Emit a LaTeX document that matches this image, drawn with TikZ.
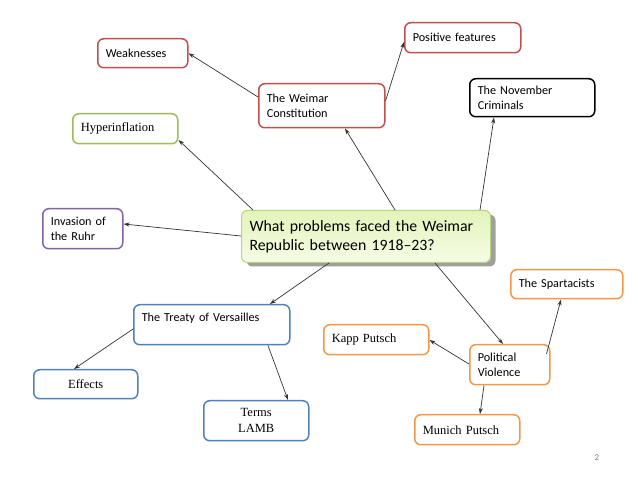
\documentclass[tikz,border=0pt]{standalone}
\usepackage{fontspec}
\setmainfont{Carlito}
\newfontfamily\serifcam{Liberation Serif}
\usetikzlibrary{arrows.meta,shadows}
\definecolor{cred}{HTML}{C0504D}
\definecolor{cgreen}{HTML}{9BBB59}
\definecolor{cpurple}{HTML}{8064A2}
\definecolor{cblue}{HTML}{4F81BD}
\definecolor{corange}{HTML}{F79646}
\definecolor{linec}{HTML}{333333}
\begin{document}
\begin{tikzpicture}[x=1pt,y=-1pt,
  box/.style={draw, rounded corners=6pt, line width=1.5pt, fill=white, inner xsep=8pt, inner ysep=2pt,
    align=left, anchor=north west, font=\fontsize{12.2}{15}\selectfont, text=black},
  sbox/.style={box, font=\serifcam\fontsize{12.5}{16}\selectfont},
  arr/.style={draw=linec, line width=0.7pt, -{Stealth[length=6pt,width=4pt]}}]
\useasboundingbox (0,0) rectangle (638,478);
% nodes
\node[box, draw=cred, minimum height=29pt, text width=74pt] (weak) at (97,38) {Weaknesses};
\node[box, draw=cred, minimum height=44pt, text width=110pt] (wc) at (258,83) {The Weimar\\Constitution};
\node[box, draw=cred, minimum height=30pt, text width=100pt] (pos) at (404,22) {Positive features};
\node[box, draw=black, minimum height=38pt, text width=109pt] (nov) at (469,78) {The November\\Criminals};
\node[sbox, draw=cgreen, minimum height=30pt, text width=89pt] (hyp) at (72,113) {Hyperinflation};
\node[box, draw=cpurple, minimum height=40pt, text width=64pt] (inv) at (42,208) {Invasion of\\the Ruhr};
\node[box, draw={rgb,255:red,181;green,215;blue,122}, line width=1pt, top color={rgb,255:red,226;green,244;blue,186}, bottom color={rgb,255:red,246;green,252;blue,230},
  drop shadow={shadow xshift=5pt, shadow yshift=-4pt, fill=gray!75, opacity=1},
  minimum height=52pt, text width=233pt, font=\fontsize{15.8}{19}\selectfont] (cen) at (241,210)
  {What problems faced the Weimar\\Republic between 1918–23?};
\node[box, draw=corange, minimum height=29pt, text width=96pt] (spa) at (510,269) {The Spartacists};
\node[box, draw=cblue, minimum height=40pt, text width=140pt] (tov) at (133,304) {The Treaty of Versailles\\\mbox{}};
\node[sbox, draw=corange, minimum height=30pt, text width=89pt] (kapp) at (323,324) {Kapp Putsch};
\node[box, draw=corange, minimum height=40pt, text width=64pt] (pv) at (469,344) {Political\\Violence};
\node[sbox, draw=cblue, minimum height=29pt, text width=88pt, align=center] (eff) at (33,369) {Effects};
\node[sbox, draw=cblue, minimum height=40pt, text width=89pt, align=center] (terms) at (203,400) {Terms\\LAMB};
\node[sbox, draw=corange, minimum height=30pt, text width=89pt] (mun) at (414,414) {Munich Putsch};
\node[text=gray, font=\fontsize{9}{10}\selectfont] (pg) at (597,458) {2};
% connectors
\draw[arr] (wc.west |- 0,97) -- (weak.east);
\draw[arr] (wc.east |- 0,101) -- (pos.west |- 0,42);
\draw[arr] (395,0 |- cen.north) -- (345,0 |- wc.south);
\draw[arr] (480,0 |- cen.north) -- (494,0 |- nov.south);
\draw[arr] (253,0 |- cen.north) -- (hyp.east |- 0,140);
\draw[arr] (cen.west |- 0,236) -- (inv.east |- 0,224);
\draw[arr] (329,0 |- cen.south) -- (270,0 |- tov.north);
\draw[arr] (435,0 |- cen.south) -- (503,0 |- pv.north);
\draw[arr] (tov.west |- 0,329) -- (74,0 |- eff.north);
\draw[arr] (268,0 |- tov.south) -- (288,0 |- terms.north);
\draw[arr] (pv.west |- 0,364) -- (kapp.east |- 0,340);
\draw[arr] ([xshift=-4pt,yshift=-10pt]pv.north east) -- (561,0 |- spa.south);
\draw[arr] (484,0 |- pv.south) -- (480,0 |- mun.north);
\end{tikzpicture}
\end{document}
